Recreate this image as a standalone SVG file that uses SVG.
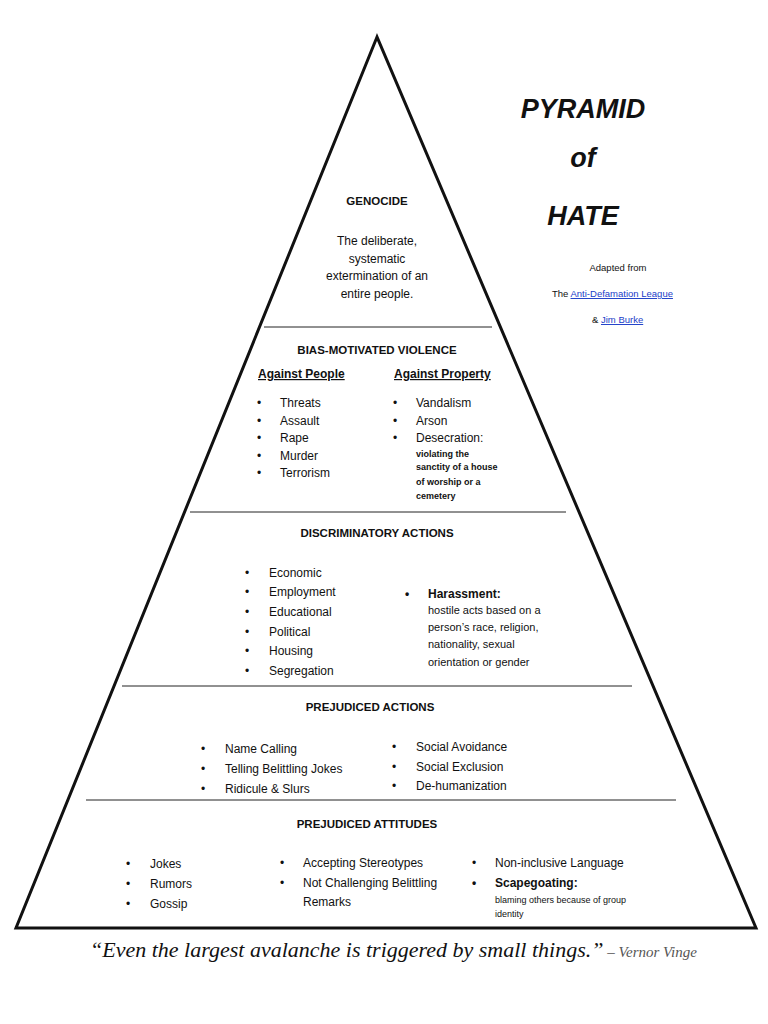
<svg xmlns="http://www.w3.org/2000/svg" width="768" height="1024" viewBox="0 0 768 1024">
<style>
text{font-family:"Liberation Sans",Arial,sans-serif;fill:#111;font-size:12px}
.h{font-weight:bold;font-size:11.5px;text-anchor:middle}
.c{text-anchor:middle}
.s{font-size:9px}
.b{font-weight:bold}
.u{text-decoration:underline;font-weight:bold}
.t{font-size:27px;font-weight:bold;font-style:italic;text-anchor:middle}
.d{stroke:#222;stroke-width:1}
.l{fill:#1a3cc8;text-decoration:underline}
</style>
<rect width="768" height="1024" fill="#fff"/>
<g id="pyramid"><polygon points="377,37 16,928 756,928" fill="none" stroke="#111" stroke-width="3"/></g>
<g id="connectors">
<line class="d" x1="264" y1="327" x2="492" y2="327"/>
<line class="d" x1="190" y1="512" x2="566" y2="512"/>
<line class="d" x1="122" y1="686" x2="632" y2="686"/>
<line class="d" x1="86" y1="800" x2="676" y2="800"/>
</g>
<g id="title">
<text class="t" x="583" y="118">PYRAMID</text>
<text class="t" x="583" y="167">of</text>
<text class="t" x="583" y="225">HATE</text>
<text class="c" x="618" y="271" style="font-size:9.5px">Adapted from</text>
<text x="552" y="297" style="font-size:9.5px">The <tspan class="l">Anti-Defamation League</tspan></text>
<text x="592" y="323" style="font-size:9.5px">&amp;  <tspan class="l">Jim Burke</tspan></text>
</g>
<g id="genocide">
<text class="h" x="377" y="205">GENOCIDE</text>
<text class="c" x="377" y="245">The deliberate,</text>
<text class="c" x="377" y="263">systematic</text>
<text class="c" x="377" y="280">extermination of an</text>
<text class="c" x="377" y="298">entire people.</text>
</g>
<g id="violence">
<text class="h" x="377" y="354">BIAS-MOTIVATED VIOLENCE</text>
<text class="u" x="258" y="378">Against People</text>
<text class="u" x="394" y="378">Against Property</text>
<text x="257" y="407">•<tspan x="280">Threats</tspan></text>
<text x="257" y="425">•<tspan x="280">Assault</tspan></text>
<text x="257" y="442">•<tspan x="280">Rape</tspan></text>
<text x="257" y="460">•<tspan x="280">Murder</tspan></text>
<text x="257" y="477">•<tspan x="280">Terrorism</tspan></text>
<text x="393" y="407">•<tspan x="416">Vandalism</tspan></text>
<text x="393" y="425">•<tspan x="416">Arson</tspan></text>
<text x="393" y="442">•<tspan x="416">Desecration:</tspan></text>
<text class="s b" x="416" y="457">violating the</text>
<text class="s b" x="416" y="470">sanctity of a house</text>
<text class="s b" x="416" y="485">of worship or a</text>
<text class="s b" x="416" y="499">cemetery</text>
</g>
<g id="discriminatory">
<text class="h" x="377" y="537">DISCRIMINATORY ACTIONS</text>
<text x="245" y="577">•<tspan x="269">Economic</tspan></text>
<text x="245" y="596">•<tspan x="269">Employment</tspan></text>
<text x="245" y="616">•<tspan x="269">Educational</tspan></text>
<text x="245" y="636">•<tspan x="269">Political</tspan></text>
<text x="245" y="655">•<tspan x="269">Housing</tspan></text>
<text x="245" y="675">•<tspan x="269">Segregation</tspan></text>
<text class="b" x="405" y="598">•<tspan x="428">Harassment:</tspan></text>
<text x="428" y="614" style="font-size:11px">hostile acts based on a</text>
<text x="428" y="631" style="font-size:11px">person’s race, religion,</text>
<text x="428" y="648" style="font-size:11px">nationality, sexual</text>
<text x="428" y="666" style="font-size:11px">orientation or gender</text>
</g>
<g id="prejudiced-actions">
<text class="h" x="370" y="711">PREJUDICED ACTIONS</text>
<text x="201" y="753">•<tspan x="225">Name Calling</tspan></text>
<text x="201" y="773">•<tspan x="225">Telling Belittling Jokes</tspan></text>
<text x="201" y="793">•<tspan x="225">Ridicule &amp; Slurs</tspan></text>
<text x="392" y="751">•<tspan x="416">Social Avoidance</tspan></text>
<text x="392" y="771">•<tspan x="416">Social Exclusion</tspan></text>
<text x="392" y="790">•<tspan x="416">De-humanization</tspan></text>
</g>
<g id="prejudiced-attitudes">
<text class="h" x="367" y="828">PREJUDICED ATTITUDES</text>
<text x="126" y="868">•<tspan x="150">Jokes</tspan></text>
<text x="126" y="888">•<tspan x="150">Rumors</tspan></text>
<text x="126" y="908">•<tspan x="150">Gossip</tspan></text>
<text x="280" y="867">•<tspan x="303">Accepting Stereotypes</tspan></text>
<text x="280" y="887">•<tspan x="303">Not Challenging Belittling</tspan></text>
<text x="303" y="906">Remarks</text>
<text x="472" y="867">•<tspan x="495">Non-inclusive Language</tspan></text>
<text class="b" x="472" y="887">•<tspan x="495">Scapegoating:</tspan></text>
<text class="s" x="495" y="903">blaming others because of group</text>
<text class="s" x="495" y="917">identity</text>
</g>
<g id="quote">
<text x="90" y="957" style="font-family:'Liberation Serif',serif;font-style:italic;font-size:22px">“Even the largest avalanche is triggered by small things.”<tspan style="font-size:15px;fill:#555"> – Vernor Vinge</tspan></text>
</g>
</svg>
